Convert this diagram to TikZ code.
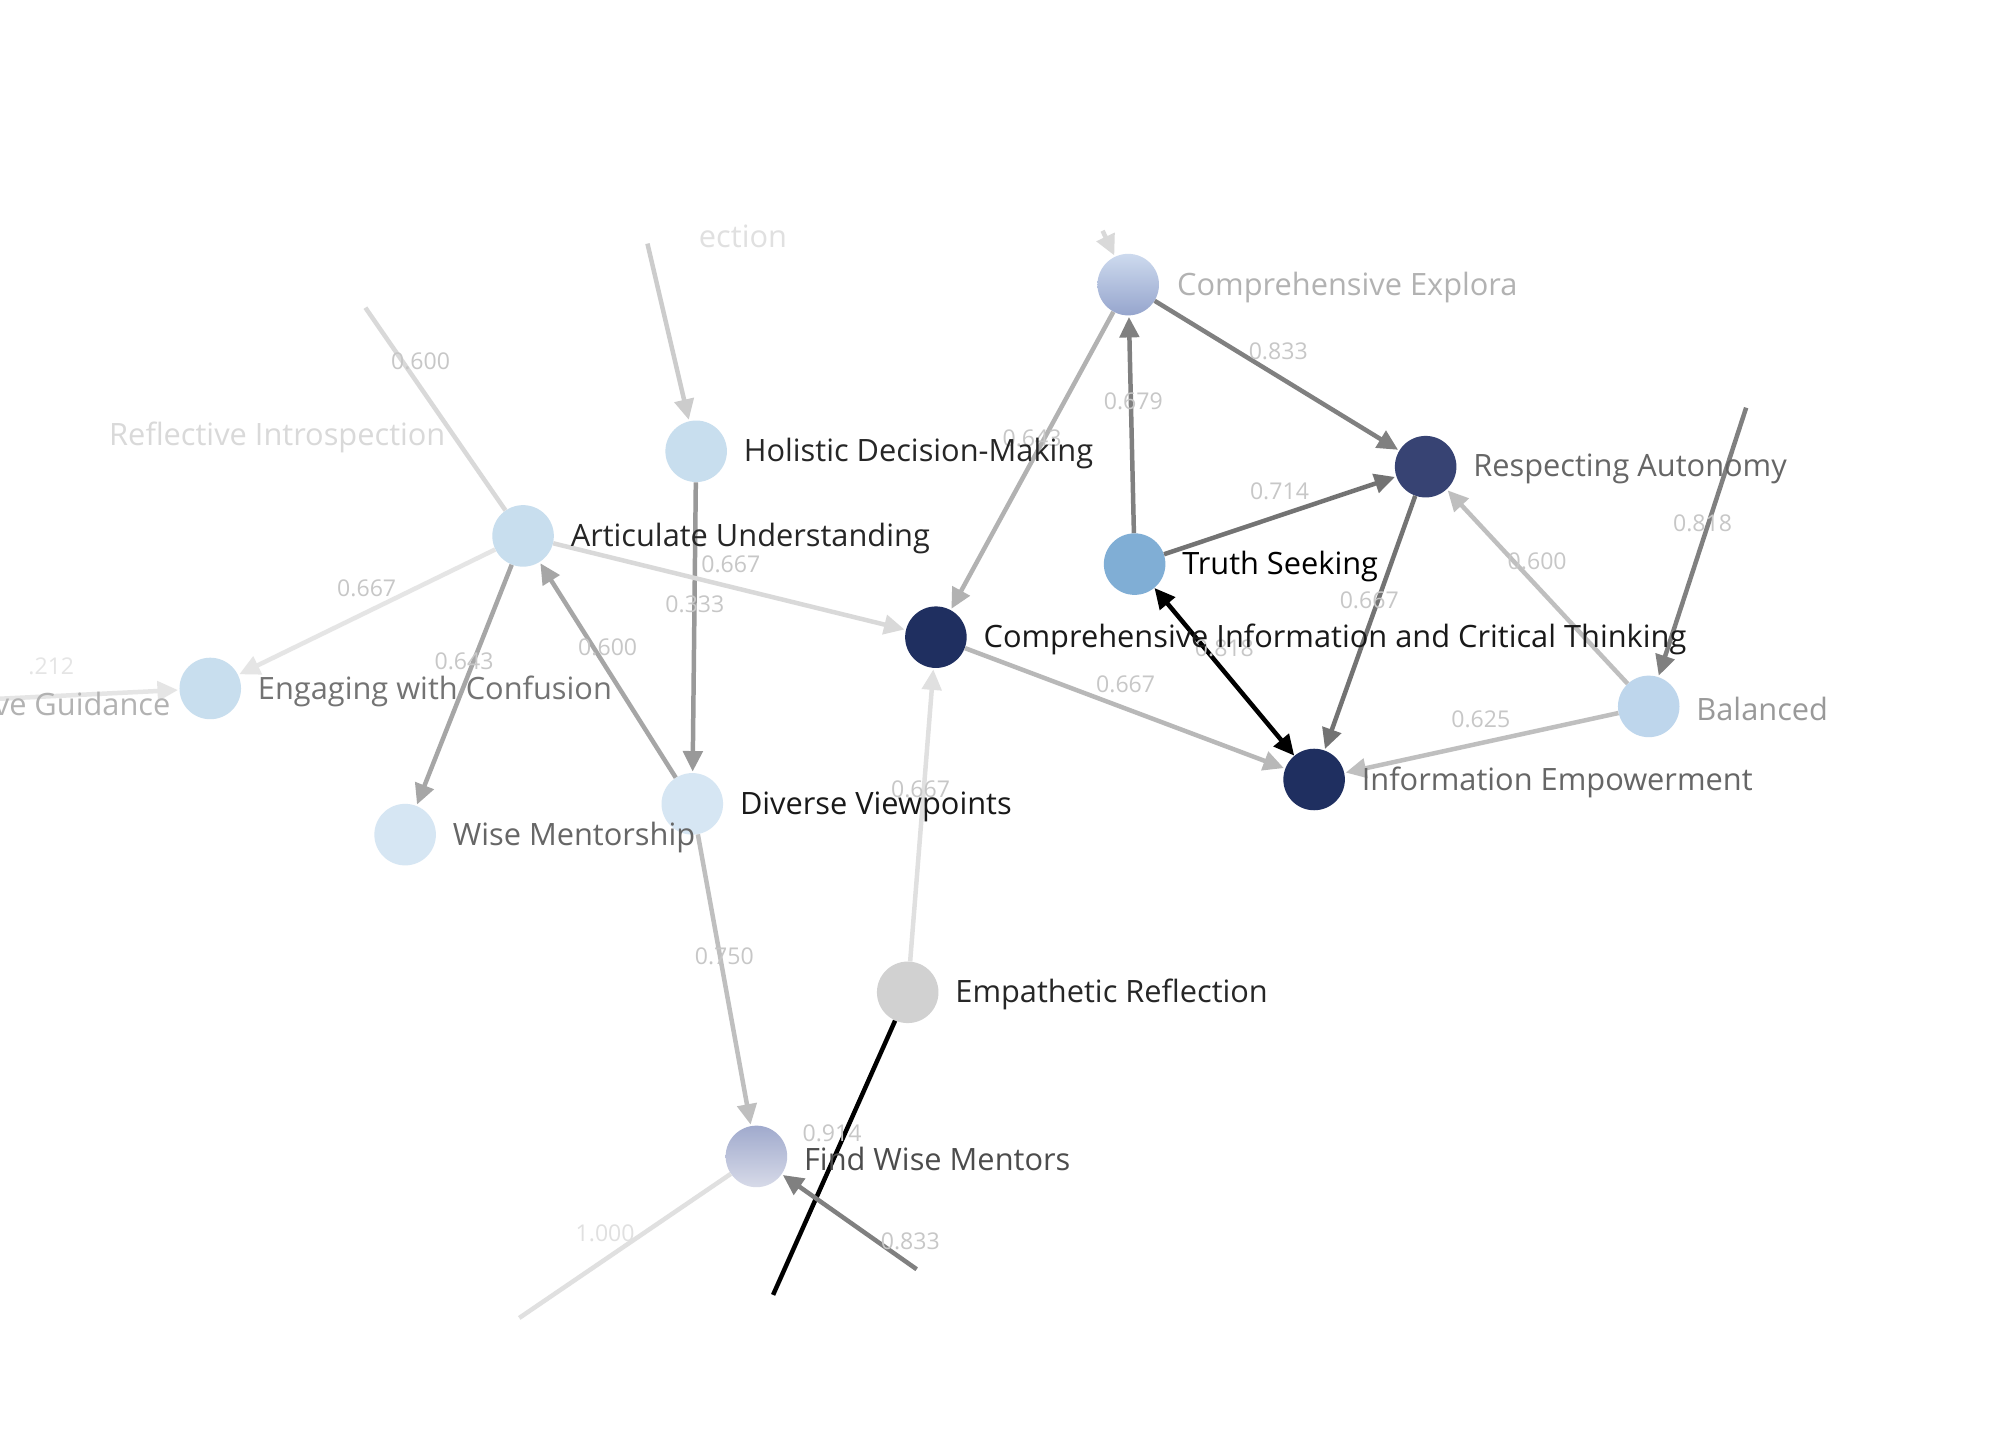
\documentclass[tikz,border=0pt]{standalone}
\usepackage{fontspec}
\setmainfont{Open Sans}
\usetikzlibrary{arrows.meta}
\definecolor{lb}{RGB}{200,222,238}
\definecolor{lb2}{RGB}{214,230,243}
\definecolor{navy}{RGB}{31,47,96}
\begin{document}
\begin{tikzpicture}[x=1pt,y=-1pt,
  nd/.style={circle,minimum size=48pt,inner sep=0pt},
  lab/.style={font=\fontsize{24}{28}\selectfont,anchor=west,inner sep=0pt},
  el/.style={font=\fontsize{18}{21}\selectfont,text=black!22,inner sep=0pt},
  ed/.style={line width=3.5pt,draw=#1,-{Triangle[length=16pt,width=15pt]},shorten >=1pt},
  ln/.style={line width=3.5pt,draw=#1},
  bi/.style={line width=3.5pt,draw=#1,{Triangle[length=16pt,width=15pt]}-{Triangle[length=16pt,width=15pt]}}]
\useasboundingbox[fill=white] (0,0) rectangle (1560,1132);
\coordinate (offA) at (505,190);
\coordinate (offB) at (285,240);
\coordinate (offC) at (0,545);
\coordinate (offD) at (860,180);
\coordinate (offE) at (1362,318);
\coordinate (offF) at (603,1010);
\coordinate (offG) at (715,990);
\coordinate (offH) at (405,1028);
% nodes
\node[nd,top color={rgb,255:red,205;green,218;blue,238},bottom color={rgb,255:red,150;green,165;blue,205}] (ce) at (880,222) {};
\node[nd,fill=lb] (hd) at (543,352) {};
\node[nd,fill=lb] (au) at (408,418) {};
\node[nd,fill=lb] (ec) at (164,537) {};
\node[nd,fill=lb2] (wm) at (316,651) {};
\node[nd,fill=lb2] (dv) at (540,627) {};
\node[nd,fill=navy] (ci) at (730,497) {};
\node[nd,fill={rgb,255:red,128;green,174;blue,213}] (ts) at (885,440) {};
\node[nd,fill={rgb,255:red,55;green,67;blue,115}] (ra) at (1112,364) {};
\node[nd,fill={rgb,255:red,190;green,214;blue,236}] (ba) at (1286,551) {};
\node[nd,fill=navy] (ie) at (1025,608) {};
\node[nd,fill=black!18] (er) at (708,774) {};
\node[nd,top color={rgb,255:red,160;green,170;blue,205},bottom color={rgb,255:red,215;green,218;blue,232}] (fw) at (590,902) {};
% edges
\draw[ed=black!20] (offA) -- (hd);
\draw[ln=black!15] (au) -- (offB);
\draw[ed=black!40] (hd) -- (dv);
\draw[ed=black!15] (au) -- (ci);
\draw[ed=black!10] (au) -- (ec);
\draw[ed=black!35] (au) -- (wm);
\draw[ed=black!35] (dv) -- (au);
\draw[ed=black!10] (offC) -- (ec);
\draw[ed=black!30] (ce) -- (ci);
\draw[ed=black!50] (ts) -- (ce);
\draw[ed=black!50] (ce) -- (ra);
\draw[ed=black!55] (ts) -- (ra);
\draw[ed=black!55] (ra) -- (ie);
\draw[ed=black!25] (ba) -- (ra);
\draw[ed=black!50] (offE) -- (ba);
\draw[ed=black!25] (ba) -- (ie);
\draw[ed=black!28] (ci) -- (ie);
\draw[bi=black] (ts) -- (ie);
\draw[ed=black!12] (er) -- (ci);
\draw[ed=black!25] (dv) -- (fw);
\draw[ln=black] (er) -- (offF);
\draw[ed=black!50] (offG) -- (fw);
\draw[ln=black!12] (fw) -- (offH);
\draw[ed=black!15] (offD) -- (ce);
% edge labels
\node[el] at (328,282) {0.600};
\node[el] at (570,440) {0.667};
\node[el] at (542,471) {0.333};
\node[el] at (286,459) {0.667};
\node[el] at (362,516) {0.643};
\node[el] at (474,505) {0.600};
\node[el,text=black!10] at (40,520) {.212};
\node[el] at (805,342) {0.643};
\node[el] at (884,313) {0.679};
\node[el] at (997,274) {0.833};
\node[el] at (998,383) {0.714};
\node[el] at (1068,468) {0.667};
\node[el] at (1199,438) {0.600};
\node[el] at (1328,408) {0.818};
\node[el] at (1155,561) {0.625};
\node[el] at (878,534) {0.667};
\node[el] at (955,506) {0.818};
\node[el] at (718,616) {0.667};
\node[el] at (565,746) {0.750};
\node[el] at (649,884) {0.914};
\node[el] at (710,968) {0.833};
\node[el,text=black!12] at (472,962) {1.000};
% labels
\node[lab,text=black!30] at (918,224) {Comprehensive Explora};
\node[lab,text=black!12] at (545,184) {ection};
\node[lab,text=black!85] at (580,354) {Holistic Decision-Making};
\node[lab,text=black!15] at (85,341) {Reflective Introspection};
\node[lab,text=black!85] at (445,420) {Articulate Understanding};
\node[lab,text=black!55] at (201,539) {Engaging with Confusion};
\node[lab,text=black!30] at (-5,549) {ve Guidance};
\node[lab,text=black!60] at (353,653) {Wise Mentorship};
\node[lab,text=black!90] at (577,629) {Diverse Viewpoints};
\node[lab,text=black!90] at (767,499) {Comprehensive Information and Critical Thinking};
\node[lab,text=black] at (922,442) {Truth Seeking};
\node[lab,text=black!60] at (1149,366) {Respecting Autonomy};
\node[lab,text=black!40] at (1323,553) {Balanced};
\node[lab,text=black!60] at (1062,610) {Information Empowerment};
\node[lab,text=black!85] at (745,776) {Empathetic Reflection};
\node[lab,text=black!70] at (627,904) {Find Wise Mentors};
\end{tikzpicture}
\end{document}
